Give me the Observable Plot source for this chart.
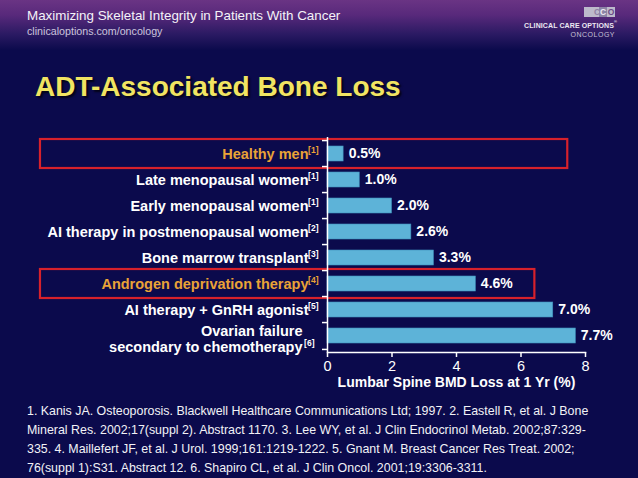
<!DOCTYPE html>
<html>
<head>
<meta charset="utf-8">
<script src="https://cdn.jsdelivr.net/npm/d3@7"></script>
<script src="https://cdn.jsdelivr.net/npm/@observablehq/plot@0.6"></script>
<style>
  html, body { margin: 0; padding: 0; }
  body {
    width: 638px; height: 478px; overflow: hidden; position: relative;
    background: #0b0a4c;
    font-family: "Liberation Sans", Arial, Helvetica, sans-serif;
  }
  #band {
    position: absolute; left: 0; top: 0; width: 638px; height: 50px;
    background: linear-gradient(180deg, #6a3484 0%, #58297b 30%, #2b1a63 68%, #0b0a4c 100%);
  }
  #hdr1 { position: absolute; left: 27px; top: 8.5px; font-size: 13.4px; line-height: 13.4px; color: #f4f2f8; white-space: nowrap; }
  #hdr2 { position: absolute; left: 27px; top: 26px; font-size: 10.7px; line-height: 10.7px; color: #cbc4dd; white-space: nowrap; }
  #logo-box { position: absolute; left: 584px; top: 7px; width: 31px; height: 10px; background: #bdbacb; overflow: hidden; }
  .lg { position: absolute; top: 0; height: 10px; font-size: 8.5px; line-height: 10px; font-weight: bold; text-align: center; }
  #logo1 { position: absolute; right: 21px; top: 22px; height: 7px; font-size: 7px; line-height: 7px; font-weight: bold; color: #ece8f2; white-space: nowrap; letter-spacing: 0.1px; }
  #logo1 .r { font-size: 4px; vertical-align: top; line-height: 0; }
  #logo2 { position: absolute; right: 23px; top: 31px; height: 7px; font-size: 7px; line-height: 7px; color: #c7c0d6; white-space: nowrap; letter-spacing: 0.5px; }
  #title {
    position: absolute; left: 35px; top: 73px; font-size: 28px; line-height: 28px; font-weight: bold;
    color: #f1e462; white-space: nowrap; text-shadow: 2px 2px 2px rgba(0, 0, 0, 0.7);
  }
  #chart { position: absolute; left: 0; top: 0; }
  #refs {
    position: absolute; left: 27px; top: 402px; font-size: 12.4px; line-height: 19px; color: #f2f2f6; white-space: nowrap;
  }
</style>
</head>
<body>
<div id="band"></div>
<div id="hdr1">Maximizing Skeletal Integrity in Patients With Cancer</div>
<div id="hdr2">clinicaloptions.com/oncology</div>
<div id="logo-box"><span class="lg" style="left:10px;width:5px;color:#8f80a4">C</span><span class="lg" style="left:15px;width:8px;background:#8c84a6;color:#eeeaf4">C</span><span class="lg" style="left:23px;width:8px;color:#6b4a88">O</span></div>
<div id="logo1">CLINICAL CARE OPTIONS<span class="r">®</span></div>
<div id="logo2">ONCOLOGY</div>
<div id="title">ADT-Associated Bone Loss</div>
<div id="chart"></div>
<div id="refs">1. Kanis JA. Osteoporosis. Blackwell Healthcare Communications Ltd; 1997. 2. Eastell R, et al. J Bone<br>Mineral Res. 2002;17(suppl 2). Abstract 1170. 3. Lee WY, et al. J Clin Endocrinol Metab. 2002;87:329-<br>335. 4. Maillefert JF, et al. J Urol. 1999;161:1219-1222. 5. Gnant M. Breast Cancer Res Treat. 2002;<br>76(suppl 1):S31. Abstract 12. 6. Shapiro CL, et al. J Clin Oncol. 2001;19:3306-3311.</div>
<script>
// Lumbar spine BMD loss after one year, by patient group
const categories = [
  "Healthy men",
  "Late menopausal women",
  "Early menopausal women",
  "AI therapy in postmenopausal women",
  "Bone marrow transplant",
  "Androgen deprivation therapy",
  "AI therapy + GnRH agonist",
  "Ovarian failure\nsecondary to chemotherapy"
];
const references = ["[1]", "[1]", "[1]", "[2]", "[3]", "[4]", "[5]", "[6]"];
const bmdLoss = [0.5, 1.0, 2.0, 2.6, 3.3, 4.6, 7.0, 7.7];

// groups outlined in red, with the right end of each outline in % units
const highlighted = ["Healthy men", "Androgen deprivation therapy"];
const highlightEnd = [7.45, 6.43];
const highlightStart = -8.9;

const xDomain = [0, 8];
const xTicks = [0, 2, 4, 6, 8];
const xLabel = "Lumbar Spine BMD Loss at 1 Yr (%)";

const rows = categories.map((cat, i) => ({
  cat, ref: references[i], value: bmdLoss[i], hi: highlighted.includes(cat)
}));
const boxes = highlighted.map((cat, i) => ({cat, end: highlightEnd[i]}));

const W = 638, H = 478;
const mTop = 137, mBottom = 126, mLeft = 327, mRight = 53;
const step = (H - mTop - mBottom) / categories.length;

const orange = "#e9a337";
const font = "'Liberation Sans', Arial, Helvetica, sans-serif";

const singleLine = rows.filter(d => !d.cat.includes("\n"));
const multiLine = rows.filter(d => d.cat.includes("\n"));

const chart = Plot.plot({
  width: W,
  height: H,
  marginTop: mTop,
  marginBottom: mBottom,
  marginLeft: mLeft,
  marginRight: mRight,
  style: {background: "transparent", color: "white", fontFamily: font, overflow: "visible"},
  x: {domain: xDomain, ticks: xTicks},
  y: {domain: categories, paddingInner: 0.44, paddingOuter: 0.22, axis: null},
  marks: [
    Plot.barX(rows, {x: "value", y: "cat", fill: "#5db3d8", stroke: "#3f92bd", strokeWidth: 0.6}),
    Plot.barX(boxes, {
      x1: () => highlightStart, x2: "end", y: "cat",
      fill: "none", stroke: "#d7212b", strokeWidth: 2.2, insetTop: -7, insetBottom: -7
    }),
    // y axis line with ticks between the groups
    Plot.ruleX([0], {stroke: "white", strokeWidth: 1.5}),
    Plot.ruleY(categories, {y: d => d, x1: 0, x2: 0, dy: -step / 2, insetLeft: -5, stroke: "white", strokeWidth: 1.5}),
    Plot.ruleY(categories.slice(-1), {y: d => d, x1: 0, x2: 0, dy: step / 2, insetLeft: -5, stroke: "white", strokeWidth: 1.5}),
    // x axis
    Plot.frame({anchor: "bottom", stroke: "white", strokeWidth: 1.5}),
    Plot.axisX({ticks: xTicks, tickSize: 5, tickPadding: 3, fontSize: 14.5, label: null, stroke: "white", strokeWidth: 1.5}),
    Plot.text([xLabel], {
      x: () => (xDomain[0] + xDomain[1]) / 2, frameAnchor: "bottom", dy: 34,
      text: d => d, fill: "white", fontWeight: "bold", fontSize: 14
    }),
    // value labels
    Plot.text(rows, {
      x: "value", y: "cat", text: d => d.value.toFixed(1) + "%", dx: 5,
      textAnchor: "start", fill: "white", fontWeight: "bold", fontSize: 14
    }),
    // group labels and their reference numbers
    Plot.text(singleLine, {
      y: "cat", frameAnchor: "left", text: "cat", dx: -19, textAnchor: "end",
      fill: d => d.hi ? orange : "white", fontWeight: "bold", fontSize: 14.5
    }),
    Plot.text(singleLine, {
      y: "cat", frameAnchor: "left", text: "ref", dx: -9, dy: -4, textAnchor: "end",
      fill: d => d.hi ? orange : "white", fontWeight: "bold", fontSize: 8.5
    }),
    Plot.text(multiLine, {
      y: "cat", frameAnchor: "left", text: "cat", dx: -25, dy: 3, textAnchor: "end", lineHeight: 1.1,
      fill: d => d.hi ? orange : "white", fontWeight: "bold", fontSize: 14.5
    }),
    Plot.text(multiLine, {
      y: "cat", frameAnchor: "left", text: "ref", dx: -13, dy: 7, textAnchor: "end",
      fill: d => d.hi ? orange : "white", fontWeight: "bold", fontSize: 8.5
    })
  ]
});
document.getElementById("chart").appendChild(chart);
</script>
</body>
</html>
